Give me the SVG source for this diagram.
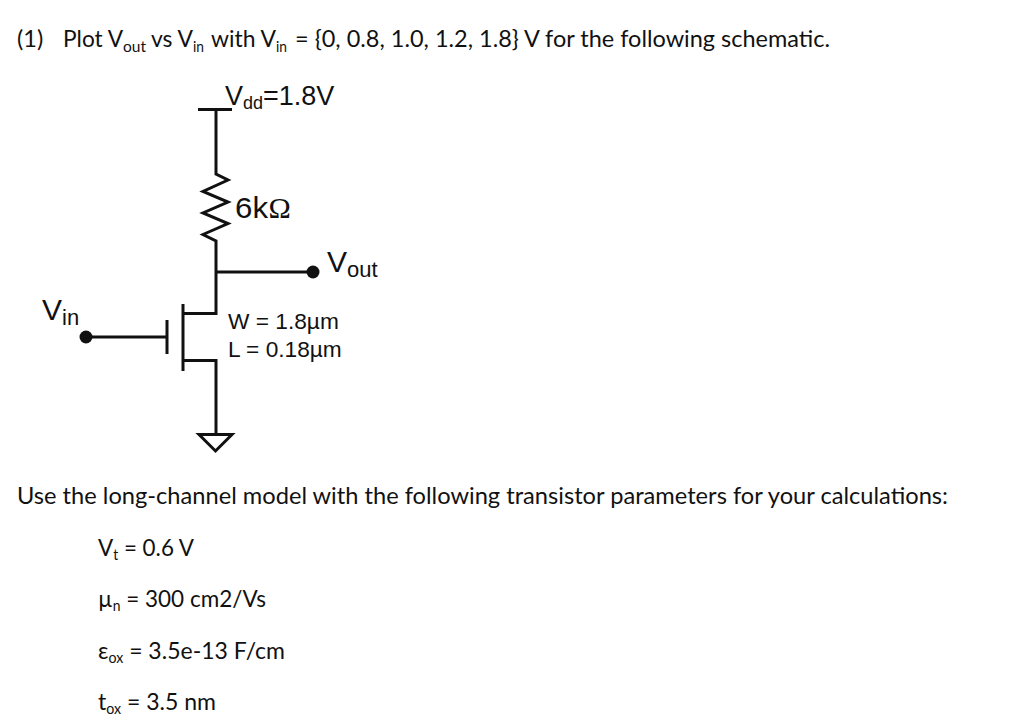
<svg xmlns="http://www.w3.org/2000/svg" width="1024" height="726" viewBox="0 0 1024 726">
<style>
.c{font-family:"Lato","Open Sans",sans-serif;font-size:23.5px;fill:#111}
.s{font-size:14.5px}
.a{font-family:"Liberation Sans",Arial,sans-serif;fill:#111}
.b{font-size:27px}
.v{font-size:30px}
.m{font-size:22.700px}
.w{fill:none;stroke:#111;stroke-width:3}
.d{fill:#111}
</style>
<rect width="1024" height="726" fill="#fff"/>
<g id="heading">
<text class="c" x="17" y="47">(1)</text>
<text class="c" x="63" y="47" textLength="60" lengthAdjust="spacingAndGlyphs">Plot V</text>
<text class="c s" x="123" y="52" textLength="23" lengthAdjust="spacingAndGlyphs">out</text>
<text class="c" x="151" y="47" textLength="42" lengthAdjust="spacingAndGlyphs">vs V</text>
<text class="c s" x="193" y="52" textLength="11" lengthAdjust="spacingAndGlyphs">in</text>
<text class="c" x="211" y="47" textLength="65" lengthAdjust="spacingAndGlyphs">with V</text>
<text class="c s" x="276" y="52" textLength="11" lengthAdjust="spacingAndGlyphs">in</text>
<text class="c" x="295" y="47" textLength="535" lengthAdjust="spacingAndGlyphs">= {0, 0.8, 1.0, 1.2, 1.8} V for the following schematic.</text>
</g>
<g id="connectors">
<path class="w" d="M198 109.500H232M216 109V174L228 180L203 191.500L228 202L203 213L228 223.500L203 234.500L216 241V313.500H183M216 272H313M183 304V371M183 360.500H216V434M167 320V354M86 337H167"/>
</g>
<g id="vdd"><text class="a b" x="225" y="105">V<tspan font-size="18" dy="4">dd</tspan><tspan dy="-4">=1.8V</tspan></text></g>
<g id="resistor"><text class="a" font-size="30" x="235" y="218" textLength="33" lengthAdjust="spacingAndGlyphs">6k</text><text font-family="Liberation Serif, serif" font-size="30" fill="#111" x="268.500" y="218">Ω</text></g>
<g id="vout"><circle class="d" cx="313" cy="272" r="6.500"/><text class="a v" x="327" y="272">V<tspan font-size="22" dy="5">out</tspan></text></g>
<g id="vin"><circle class="d" cx="86" cy="337" r="6.500"/><text class="a v" x="42" y="320">V<tspan font-size="22" dy="5">in</tspan></text></g>
<g id="transistor"><text class="a m" x="228" y="329">W = 1.8µm</text><text class="a m" x="228" y="357">L = 0.18µm</text></g>
<g id="ground"><path class="w" d="M199 434.500H232L215.500 451Z"/></g>
<g id="parameters">
<text class="c" x="17" y="504" textLength="931" lengthAdjust="spacingAndGlyphs">Use the long-channel model with the following transistor parameters for your calculations:</text>
<text class="c" x="98" y="556" textLength="96" lengthAdjust="spacingAndGlyphs">V<tspan class="s" dy="4">t</tspan><tspan dy="-4"> = 0.6 V</tspan></text>
<text class="c" x="98" y="607" textLength="168" lengthAdjust="spacingAndGlyphs">µ<tspan class="s" dy="4">n</tspan><tspan dy="-4"> = 300 cm2/Vs</tspan></text>
<text class="c" x="98" y="659" textLength="187" lengthAdjust="spacingAndGlyphs">ε<tspan class="s" dy="4">ox</tspan><tspan dy="-4"> = 3.5e-13 F/cm</tspan></text>
<text class="c" x="98" y="710" textLength="118" lengthAdjust="spacingAndGlyphs">t<tspan class="s" dy="4">ox</tspan><tspan dy="-4"> = 3.5 nm</tspan></text>
</g>
</svg>
